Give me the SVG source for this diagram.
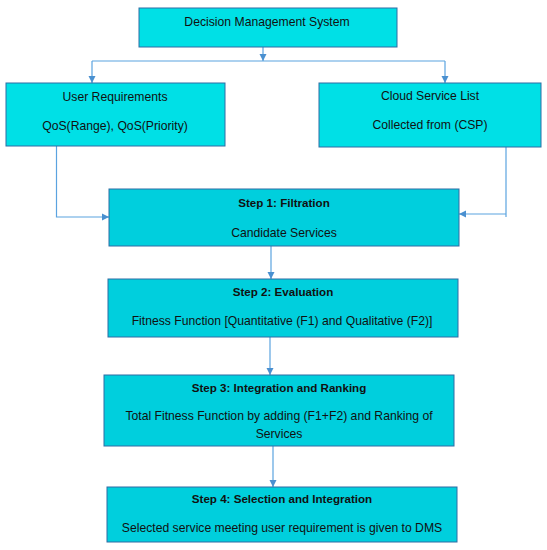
<svg xmlns="http://www.w3.org/2000/svg" width="547" height="550" viewBox="0 0 547 550">
<defs>
<marker id="ah" markerWidth="8" markerHeight="8" refX="7" refY="4" orient="auto" markerUnits="userSpaceOnUse">
<path d="M0,0.5 L7,4 L0,7.5 Z" fill="#4A90D0"/>
</marker>
<style>
.box{fill:#00CFDD;stroke:#2E6DA4;stroke-width:1}
.top{fill:#00E0E6}
.t{font-family:"Liberation Sans",Arial,sans-serif;font-size:12.2px;fill:#111;text-anchor:middle}
.b{font-weight:bold;font-size:11.6px}
.c{fill:none;stroke:#5BA3E0;stroke-width:1.2}
</style>
</defs>
<rect width="547" height="550" fill="#fff"/>
<g id="connectors">
<path class="c" d="M263,47 V61" marker-end="url(#ah)"/>
<path class="c" d="M92,61 H445"/>
<path class="c" d="M92,61 V83" marker-end="url(#ah)"/>
<path class="c" d="M445,61 V83" marker-end="url(#ah)"/>
<path class="c" d="M56.5,146 V217 H109" marker-end="url(#ah)"/>
<path class="c" d="M506,147 V217"/>
<path class="c" d="M506,214 H459" marker-end="url(#ah)"/>
<path class="c" d="M271,246 V279" marker-end="url(#ah)"/>
<path class="c" d="M270,337 V375" marker-end="url(#ah)"/>
<path class="c" d="M273,446 V487" marker-end="url(#ah)"/>
</g>
<g id="dms">
<rect class="box top" x="139" y="8" width="258" height="39"/>
<text class="t" x="267" y="26">Decision Management System</text>
</g>
<g id="user-req">
<rect class="box top" x="6" y="83" width="219" height="63"/>
<text class="t" x="115" y="101">User Requirements</text>
<text class="t" x="115" y="130">QoS(Range), QoS(Priority)</text>
</g>
<g id="cloud-list">
<rect class="box top" x="319" y="83" width="222" height="64"/>
<text class="t" x="430" y="100">Cloud Service List</text>
<text class="t" x="430" y="129">Collected from (CSP)</text>
</g>
<g id="step1">
<rect class="box" x="109" y="189" width="350" height="57"/>
<text class="t b" x="284" y="207">Step 1: Filtration</text>
<text class="t" x="284" y="237">Candidate Services</text>
</g>
<g id="step2">
<rect class="box" x="108" y="279" width="350" height="58"/>
<text class="t b" x="283" y="296">Step 2: Evaluation</text>
<text class="t" x="282" y="325">Fitness Function [Quantitative (F1) and Qualitative (F2)]</text>
</g>
<g id="step3">
<rect class="box" x="104" y="375" width="350" height="71"/>
<text class="t b" x="279" y="392">Step 3: Integration and Ranking</text>
<text class="t" x="279" y="420">Total Fitness Function by adding (F1+F2) and Ranking of</text>
<text class="t" x="279" y="438">Services</text>
</g>
<g id="step4">
<rect class="box" x="107" y="487" width="350" height="55"/>
<text class="t b" x="282" y="503">Step 4: Selection and Integration</text>
<text class="t" x="282" y="532">Selected service meeting user requirement is given to DMS</text>
</g>
</svg>
